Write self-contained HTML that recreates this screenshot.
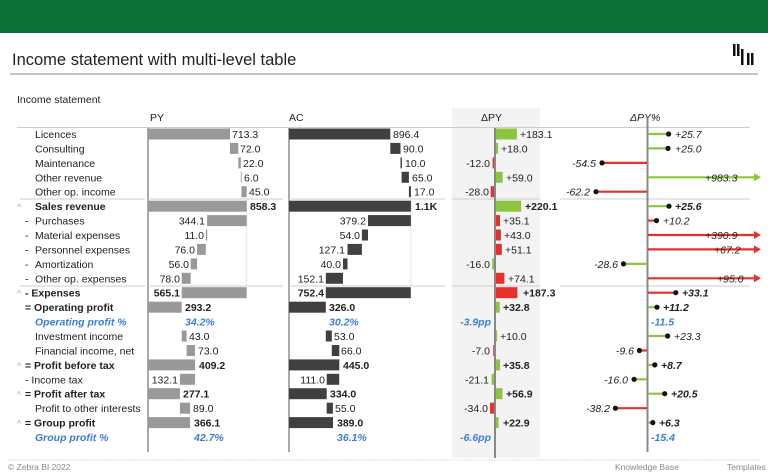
<!DOCTYPE html>
<html><head><meta charset="utf-8"><style>
body{margin:0;width:768px;height:474px;overflow:hidden;background:#fff}
svg{display:block}
text{font-family:"Liberation Sans",sans-serif;font-size:10.5px;fill:#222}
.b{font-weight:bold}.bl{fill:#3a7fd5;font-weight:bold;font-style:italic}
.i{font-style:italic}.e{text-anchor:end}
.py{fill:#999}.ac{fill:#404040}.g{fill:#8cc63f}.r{fill:#e8302a}
</style></head><body>
<svg width="768" height="474" viewBox="0 0 768 474">
<rect x="0" y="0" width="768" height="33" fill="#0a7035"/>
<text x="12" y="65" style="font-size:16.5px">Income statement with multi-level table</text>
<line x1="10" y1="74" x2="758" y2="74" stroke="#888" stroke-width="1"/>
<g fill="#111"><rect x="733" y="44" width="2.5" height="12"/><rect x="737" y="44" width="2.5" height="12"/><rect x="741" y="49" width="2.5" height="16"/><rect x="747" y="53" width="2.5" height="12"/><rect x="751" y="53" width="2.5" height="12"/></g>
<text x="17" y="103">Income statement</text>
<rect x="452" y="108" width="88" height="350" fill="#f3f3f3"/>
<text x="150" y="121">PY</text><text x="289" y="121">AC</text><text x="481" y="121">ΔPY</text><text x="630" y="121" class="i">ΔPY%</text>
<line x1="17" y1="127.5" x2="750" y2="127.5" stroke="#ccc"/>
<g stroke="#ccc">
<line x1="20" y1="199" x2="145" y2="199"/><line x1="150" y1="199" x2="283" y2="199"/><line x1="291" y1="199" x2="445" y2="199"/><line x1="452" y1="199" x2="540" y2="199"/><line x1="560" y1="199" x2="750" y2="199"/>
<line x1="20" y1="286" x2="145" y2="286"/><line x1="150" y1="286" x2="283" y2="286"/><line x1="291" y1="286" x2="445" y2="286"/><line x1="452" y1="286" x2="540" y2="286"/><line x1="560" y1="286" x2="750" y2="286"/>
</g>
<g stroke="#ccc" stroke-dasharray="1,1">
<line x1="246.7" y1="200" x2="246.7" y2="286"/><line x1="410.9" y1="200" x2="410.9" y2="286"/>
</g>
<line x1="148" y1="128" x2="148" y2="452" stroke="#555"/>
<line x1="289" y1="128" x2="289" y2="452" stroke="#555"/>
<line x1="495" y1="128" x2="495" y2="458" stroke="#888" stroke-width="2"/>
<line x1="647.5" y1="118" x2="647.5" y2="452" stroke="#888" stroke-width="2"/>
<g>
<text x="35" y="138">Licences</text>
<text x="35" y="152.4">Consulting</text>
<text x="35" y="166.9">Maintenance</text>
<text x="35" y="181.3">Other revenue</text>
<text x="35" y="195.7">Other op. income</text>
<text x="17" y="210.2" style="fill:#aaa;font-size:9px">^</text><text x="35" y="210.2" class="b">Sales revenue</text>
<text x="25" y="224.6">-</text><text x="35" y="224.6">Purchases</text>
<text x="25" y="239">-</text><text x="35" y="239">Material expenses</text>
<text x="25" y="253.4">-</text><text x="35" y="253.4">Personnel expenses</text>
<text x="25" y="267.9">-</text><text x="35" y="267.9">Amortization</text>
<text x="25" y="282.3">-</text><text x="35" y="282.3">Other op. expenses</text>
<text x="17" y="296.7" style="fill:#aaa;font-size:9px">^</text><text x="25" y="296.7" class="b">- Expenses</text>
<text x="25" y="311.2" class="b">= Operating profit</text>
<text x="35" y="325.6" class="bl">Operating profit %</text>
<text x="35" y="340">Investment income</text>
<text x="35" y="354.5">Financial income, net</text>
<text x="17" y="368.9" style="fill:#aaa;font-size:9px">^</text><text x="25" y="368.9" class="b">= Profit before tax</text>
<text x="25" y="383.3">- Income tax</text>
<text x="17" y="397.7" style="fill:#aaa;font-size:9px">^</text><text x="25" y="397.7" class="b">= Profit after tax</text>
<text x="35" y="412.2">Profit to other interests</text>
<text x="17" y="426.6" style="fill:#aaa;font-size:9px">^</text><text x="25" y="426.6" class="b">= Group profit</text>
<text x="35" y="441" class="bl">Group profit %</text>
</g>
<g class="py">
<rect x="148" y="128.5" width="82" height="11"/>
<rect x="230" y="142.9" width="8.3" height="11"/>
<rect x="238.3" y="157.4" width="2.5" height="11"/>
<rect x="240.8" y="171.8" width="0.8" height="11"/>
<rect x="241.5" y="186.2" width="5.2" height="11"/>
<rect x="148" y="200.7" width="98.7" height="11"/>
<rect x="207.1" y="215.1" width="39.6" height="11"/>
<rect x="205.9" y="229.5" width="1.3" height="11"/>
<rect x="197.1" y="243.9" width="8.7" height="11"/>
<rect x="190.7" y="258.4" width="6.4" height="11"/>
<rect x="181.7" y="272.8" width="9" height="11"/>
<rect x="181.7" y="287.2" width="65" height="11"/>
<rect x="148" y="301.7" width="33.7" height="11"/>
<rect x="181.7" y="330.5" width="4.9" height="11"/>
<rect x="186.6" y="345" width="8.4" height="11"/>
<rect x="148" y="359.4" width="47.1" height="11"/>
<rect x="179.9" y="373.8" width="15.2" height="11"/>
<rect x="148" y="388.2" width="31.9" height="11"/>
<rect x="179.9" y="402.7" width="10.2" height="11"/>
<rect x="148" y="417.1" width="42.1" height="11"/>
</g>
<g>
<text x="232" y="138">713.3</text><text x="240" y="152.4">72.0</text><text x="243" y="166.9">22.0</text><text x="244" y="181.3">6.0</text><text x="249" y="195.7">45.0</text>
<text x="250" y="210.2" class="b">858.3</text>
<text x="205" y="224.6" class="e">344.1</text><text x="204" y="239" class="e">11.0</text><text x="195" y="253.4" class="e">76.0</text><text x="189" y="267.9" class="e">56.0</text><text x="180" y="282.3" class="e">78.0</text>
<text x="180" y="296.7" class="e b">565.1</text>
<text x="185" y="311.2" class="b">293.2</text><text x="185" y="325.6" class="bl">34.2%</text>
<text x="189" y="340">43.0</text><text x="198" y="354.5">73.0</text>
<text x="199" y="368.9" class="b">409.2</text><text x="178" y="383.3" class="e">132.1</text>
<text x="183" y="397.7" class="b">277.1</text><text x="193" y="412.2">89.0</text>
<text x="194" y="426.6" class="b">366.1</text><text x="194" y="441" class="bl">42.7%</text>
</g>
<g class="ac">
<rect x="289" y="128.5" width="101.3" height="11"/>
<rect x="390.3" y="142.9" width="10.2" height="11"/>
<rect x="400.5" y="157.4" width="1.4" height="11"/>
<rect x="401.6" y="171.8" width="7.3" height="11"/>
<rect x="408.9" y="186.2" width="2" height="11"/>
<rect x="289" y="200.7" width="121.9" height="11"/>
<rect x="368" y="215.1" width="42.9" height="11"/>
<rect x="361.9" y="229.5" width="6.1" height="11"/>
<rect x="347.5" y="243.9" width="14.4" height="11"/>
<rect x="343" y="258.4" width="4.5" height="11"/>
<rect x="325.8" y="272.8" width="17.2" height="11"/>
<rect x="325.8" y="287.2" width="85" height="11"/>
<rect x="289" y="301.7" width="36.8" height="11"/>
<rect x="325.8" y="330.5" width="6" height="11"/>
<rect x="331.8" y="345" width="7.5" height="11"/>
<rect x="289" y="359.4" width="50.3" height="11"/>
<rect x="326.7" y="373.8" width="12.5" height="11"/>
<rect x="289" y="388.2" width="37.7" height="11"/>
<rect x="326.7" y="402.7" width="6.2" height="11"/>
<rect x="289" y="417.1" width="44" height="11"/>
</g>
<g>
<text x="393" y="138">896.4</text><text x="403" y="152.4">90.0</text><text x="405" y="166.9">10.0</text><text x="412" y="181.3">65.0</text><text x="414" y="195.7">17.0</text>
<text x="415" y="210.2" class="b">1.1K</text>
<text x="366" y="224.6" class="e">379.2</text><text x="360" y="239" class="e">54.0</text><text x="345" y="253.4" class="e">127.1</text><text x="341" y="267.9" class="e">40.0</text><text x="324" y="282.3" class="e">152.1</text>
<text x="324" y="296.7" class="e b">752.4</text>
<text x="329" y="311.2" class="b">326.0</text><text x="329" y="325.6" class="bl">30.2%</text>
<text x="334" y="340">53.0</text><text x="341" y="354.5">66.0</text>
<text x="343" y="368.9" class="b">445.0</text><text x="325" y="383.3" class="e">111.0</text>
<text x="330" y="397.7" class="b">334.0</text><text x="335" y="412.2">55.0</text>
<text x="337" y="426.6" class="b">389.0</text><text x="337" y="441" class="bl">36.1%</text>
</g>
<g>
<rect class="g" x="496" y="128.5" width="20.9" height="11"/>
<rect class="g" x="496" y="142.9" width="2.1" height="11"/>
<rect class="r" x="492.6" y="157.4" width="1.4" height="11"/>
<rect class="g" x="496" y="171.8" width="6.7" height="11"/>
<rect class="r" x="490.8" y="186.2" width="3.2" height="11"/>
<rect class="g" x="496" y="200.7" width="25.1" height="11"/>
<rect class="r" x="496" y="215.1" width="4" height="11"/>
<rect class="r" x="496" y="229.5" width="4.9" height="11"/>
<rect class="r" x="496" y="243.9" width="5.8" height="11"/>
<rect class="g" x="492.2" y="258.4" width="1.8" height="11"/>
<rect class="r" x="496" y="272.8" width="8.4" height="11"/>
<rect class="r" x="496" y="287.2" width="21.4" height="11"/>
<rect class="g" x="496" y="301.7" width="3.7" height="11"/>
<rect class="g" x="496" y="330.5" width="1.1" height="11"/>
<rect class="r" x="493.2" y="345" width="0.8" height="11"/>
<rect class="g" x="496" y="359.4" width="4.1" height="11"/>
<rect class="g" x="491.6" y="373.8" width="2.4" height="11"/>
<rect class="g" x="496" y="388.2" width="6.5" height="11"/>
<rect class="r" x="490.1" y="402.7" width="3.9" height="11"/>
<rect class="g" x="496" y="417.1" width="2.6" height="11"/>
</g>
<g>
<text x="520" y="138">+183.1</text><text x="501" y="152.4">+18.0</text><text x="490" y="166.9" class="e">-12.0</text><text x="506" y="181.3">+59.0</text><text x="489" y="195.7" class="e">-28.0</text>
<text x="525" y="210.2" class="b">+220.1</text>
<text x="503" y="224.6">+35.1</text><text x="504" y="239">+43.0</text><text x="505" y="253.4">+51.1</text><text x="490" y="267.9" class="e">-16.0</text><text x="508" y="282.3">+74.1</text>
<text x="523" y="296.7" class="b">+187.3</text>
<text x="503" y="311.2" class="b">+32.8</text><text x="491" y="325.6" class="bl e">-3.9pp</text>
<text x="500" y="340">+10.0</text><text x="490" y="354.5" class="e">-7.0</text>
<text x="503" y="368.9" class="b">+35.8</text><text x="489" y="383.3" class="e">-21.1</text>
<text x="506" y="397.7" class="b">+56.9</text><text x="488" y="412.2" class="e">-34.0</text>
<text x="503" y="426.6" class="b">+22.9</text><text x="491" y="441" class="bl e">-6.6pp</text>
</g>
<g stroke-width="2.2">
<line x1="648" y1="134" x2="668.6" y2="134" stroke="#8cc63f"/>
<line x1="648" y1="148.4" x2="668" y2="148.4" stroke="#8cc63f"/>
<line x1="647" y1="162.9" x2="602" y2="162.9" stroke="#e8302a"/>
<line x1="648" y1="177.3" x2="754" y2="177.3" stroke="#8cc63f"/>
<line x1="647" y1="191.7" x2="596" y2="191.7" stroke="#e8302a"/>
<line x1="648" y1="206.2" x2="669" y2="206.2" stroke="#8cc63f"/>
<line x1="648" y1="220.6" x2="656.5" y2="220.6" stroke="#e8302a"/>
<line x1="648" y1="235" x2="754" y2="235" stroke="#e8302a"/>
<line x1="648" y1="249.4" x2="754" y2="249.4" stroke="#e8302a"/>
<line x1="647" y1="263.9" x2="623.5" y2="263.9" stroke="#8cc63f"/>
<line x1="648" y1="278.3" x2="754" y2="278.3" stroke="#e8302a"/>
<line x1="648" y1="292.7" x2="675.8" y2="292.7" stroke="#e8302a"/>
<line x1="648" y1="307.2" x2="657" y2="307.2" stroke="#8cc63f"/>
<line x1="648" y1="336" x2="667.6" y2="336" stroke="#8cc63f"/>
<line x1="647" y1="350.5" x2="639.4" y2="350.5" stroke="#e8302a"/>
<line x1="648" y1="364.9" x2="654.8" y2="364.9" stroke="#8cc63f"/>
<line x1="647" y1="379.3" x2="634.1" y2="379.3" stroke="#8cc63f"/>
<line x1="648" y1="393.7" x2="664.7" y2="393.7" stroke="#8cc63f"/>
<line x1="647" y1="408.2" x2="615.4" y2="408.2" stroke="#e8302a"/>
<line x1="648" y1="422.6" x2="652.8" y2="422.6" stroke="#8cc63f"/>
</g>
<g fill="#111">
<circle cx="668.6" cy="134" r="2.6"/><circle cx="668" cy="148.4" r="2.6"/><circle cx="602" cy="162.9" r="2.6"/><circle cx="596" cy="191.7" r="2.6"/><circle cx="669" cy="206.2" r="2.6"/><circle cx="656.5" cy="220.6" r="2.6"/><circle cx="623.5" cy="263.9" r="2.6"/><circle cx="675.8" cy="292.7" r="2.6"/><circle cx="657" cy="307.2" r="2.6"/><circle cx="667.6" cy="336" r="2.6"/><circle cx="639.4" cy="350.5" r="2.6"/><circle cx="654.8" cy="364.9" r="2.6"/><circle cx="634.1" cy="379.3" r="2.6"/><circle cx="664.7" cy="393.7" r="2.6"/><circle cx="615.4" cy="408.2" r="2.6"/><circle cx="652.8" cy="422.6" r="2.6"/>
</g>
<polygon points="754,173.3 761,177.3 754,181.3" fill="#8cc63f"/>
<polygon points="754,231 761,235 754,239" fill="#e8302a"/>
<polygon points="754,245.4 761,249.4 754,253.4" fill="#e8302a"/>
<polygon points="754,274.3 761,278.3 754,282.3" fill="#e8302a"/>
<g class="i">
<text x="675" y="138">+25.7</text><text x="675" y="152.4">+25.0</text><text x="596" y="166.9" class="e">-54.5</text><text x="705" y="181.3">+983.3</text><text x="590" y="195.7" class="e">-62.2</text>
<text x="675" y="210.2" class="b">+25.6</text><text x="663" y="224.6">+10.2</text><text x="705" y="239">+390.9</text><text x="714" y="253.4">+67.2</text><text x="618" y="267.9" class="e">-28.6</text><text x="717" y="282.3">+95.0</text>
<text x="682" y="296.7" class="b">+33.1</text><text x="663" y="311.2" class="b">+11.2</text><text x="651" y="325.6" class="bl">-11.5</text>
<text x="674" y="340">+23.3</text><text x="634" y="354.5" class="e">-9.6</text><text x="661" y="368.9" class="b">+8.7</text><text x="628" y="383.3" class="e">-16.0</text>
<text x="671" y="397.7" class="b">+20.5</text><text x="610" y="412.2" class="e">-38.2</text><text x="659" y="426.6" class="b">+6.3</text><text x="651" y="441" class="bl">-15.4</text>
</g>
<line x1="8" y1="460" x2="760" y2="460" stroke="#ddd" stroke-dasharray="2,1"/>
<text x="8" y="470" style="font-size:8.5px;fill:#888">© Zebra BI 2022</text>
<text x="615" y="470" style="font-size:8.5px;fill:#888">Knowledge Base</text>
<text x="727" y="470" style="font-size:8.5px;fill:#888">Templates</text>
</svg>
</body></html>
